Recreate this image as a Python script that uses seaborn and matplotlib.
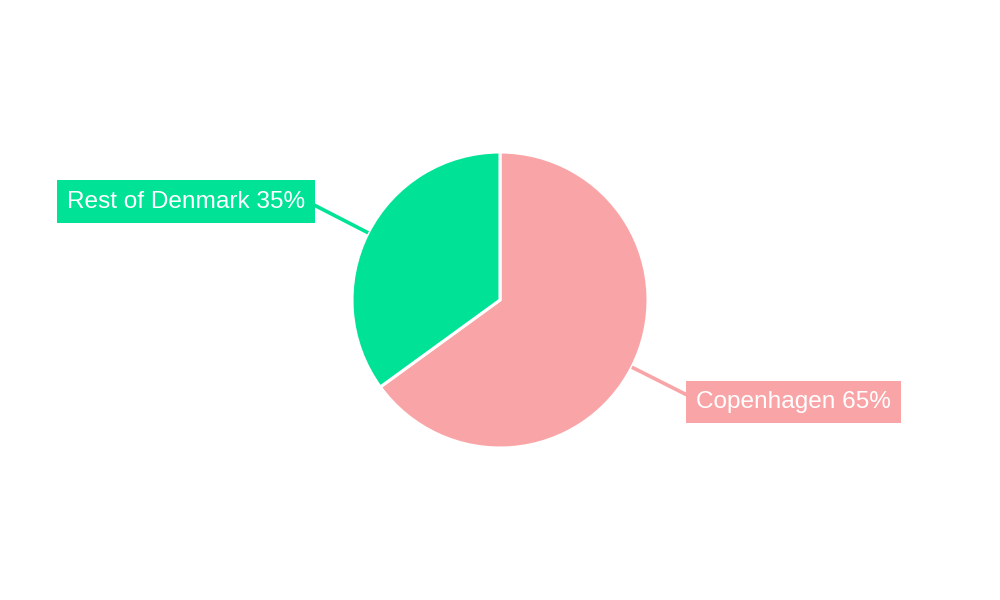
import matplotlib
matplotlib.use("Agg")
import matplotlib.pyplot as plt
import seaborn as sns
import numpy as np

labels = ["Copenhagen", "Rest of Denmark"]
shares = [65, 35]
colors = ["#F9A5A7", "#00E396"]

sns.set_style("white")
plt.rcParams['font.family'] = ['Liberation Sans', 'DejaVu Sans']

fig = plt.figure(figsize=(10, 6), dpi=100)
ax = fig.add_axes([0, 0, 1, 1])

wedges, _ = ax.pie(shares, colors=colors, startangle=90, counterclock=False,
                   radius=1, wedgeprops=dict(edgecolor="white", linewidth=2.2))

# 1 data unit = 148 px
ax.set_xlim(-500 / 148, 500 / 148)
ax.set_ylim(-300 / 148, 300 / 148)
ax.set_aspect("equal")
ax.axis("off")

# label text anchor and connector end (box edge)
text_pos = [(1.324, -0.688, "left", 1.270, -0.645),
            (-1.318, 0.664, "right", -1.270, 0.649)]
for w, lab, val, col, (tx, ty, ha, ex, ey) in zip(wedges, labels, shares, colors, text_pos):
    mid = np.deg2rad((w.theta1 + w.theta2) / 2)
    px, py = np.cos(mid), np.sin(mid)
    ax.plot([px, ex], [py, ey], color=col, lw=2.6, solid_capstyle="butt", zorder=1)
    ax.text(tx, ty, f"{lab} {val}%", ha=ha, va="center", color="white",
            fontsize=17.6, zorder=3,
            bbox=dict(boxstyle="square,pad=0.42", fc=col, ec="none"))

fig.savefig("out.png", dpi=100)
